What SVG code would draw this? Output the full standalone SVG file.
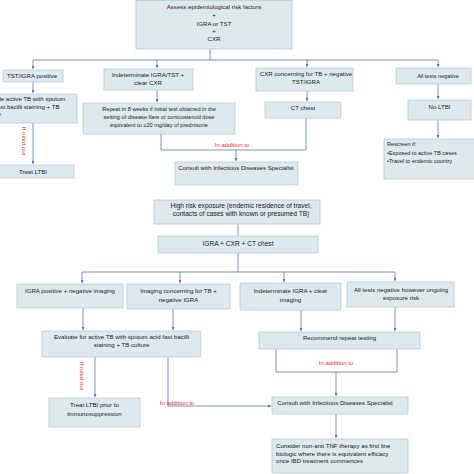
<svg xmlns="http://www.w3.org/2000/svg" width="474" height="474" viewBox="0 0 474 474">
<style>
.b{fill:#dde9ee;stroke:#b6cad4;stroke-width:0.8}
.t{font-family:"Liberation Sans",Arial,sans-serif;font-size:6.1px;fill:#1a1a1a;text-anchor:middle}
.l{text-anchor:start}
.s{font-size:5.6px}
.xs{font-size:5.5px}
.g{font-size:6.6px}
.r{font-family:"Liberation Sans",Arial,sans-serif;font-size:6px;fill:#e2302b;text-anchor:middle}
.c{fill:none;stroke:#5a76a4;stroke-width:0.8}
.a{marker-end:url(#ah)}
</style>
<defs>
<marker id="ah" viewBox="0 0 6 6" refX="6" refY="3" markerWidth="3" markerHeight="3" markerUnits="userSpaceOnUse" orient="auto">
<path d="M0,0 L6,3 L0,6 z" fill="#5a76a4"/>
</marker>
</defs>
<rect width="474" height="474" fill="#ffffff"/>
<g id="connectors">
<path class="c" d="M210,49 V60 M33,60 H438"/>
<path class="c a" d="M33,60 V69"/>
<path class="c a" d="M157,60 V68"/>
<path class="c a" d="M307,60 V67"/>
<path class="c a" d="M438,60 V67"/>
<path class="c a" d="M33,82 V93"/>
<path class="c a" d="M157,90 V102"/>
<path class="c a" d="M307,91 V101"/>
<path class="c a" d="M438,84 V99"/>
<path class="c a" d="M438,120 V138"/>
<path class="c a" d="M33,123 V164"/>
<path class="c" d="M161,134 V150 H306 V118"/>
<path class="c a" d="M236,150 V161"/>
<path class="c" d="M238,224 V236 M238,253 V272 M82,272 H395"/>
<path class="c a" d="M82,272 V283"/>
<path class="c a" d="M180,272 V283"/>
<path class="c a" d="M284,272 V282"/>
<path class="c a" d="M395,272 V281"/>
<path class="c a" d="M83,308 V330"/>
<path class="c a" d="M173,309 V330"/>
<path class="c a" d="M95,357 V397"/>
<path class="c a" d="M168,357 V406 H271"/>
<path class="c a" d="M301,310 V331"/>
<path class="c a" d="M395,307 V331"/>
<path class="c" d="M276,349 V372 H397 V349"/>
<path class="c a" d="M336,372 V396"/>
<path class="c a" d="M336,414 V438"/>
<text class="r" transform="translate(22.3,141) rotate(90)">If ruled out</text>
<text class="r" x="232" y="146.5">In addition to</text>
<text class="r" transform="translate(80.3,376) rotate(90)">If ruled out</text>
<text class="r l" x="177" y="404.5">In addition to</text>
<text class="r" x="336" y="365">In addition to</text>
</g>
<g id="n1"><rect class="b" x="136" y="0.5" width="156" height="48.5"/>
<text class="t" x="214" y="9">Assess epidemiological risk factors</text>
<text class="t" x="214" y="17">+</text>
<text class="t" x="214" y="26">IGRA or TST</text>
<text class="t" x="214" y="33">+</text>
<text class="t" x="214" y="41">CXR</text></g>
<g id="n2"><rect class="b" x="3" y="70" width="60" height="12"/>
<text class="t" x="32" y="78">TST/IGRA positive</text></g>
<g id="n3"><rect class="b" x="104" y="69" width="89" height="21"/>
<text class="t" x="148" y="77">Indeterminate IGRA/TST +</text>
<text class="t" x="148" y="85">clear CXR</text></g>
<g id="n4"><rect class="b" x="256" y="68" width="97" height="23"/>
<text class="t" x="306" y="76">CXR concerning for TB + negative</text>
<text class="t" x="306" y="84">TST/IGRA</text></g>
<g id="n5"><rect class="b" x="396" y="68" width="75" height="16"/>
<text class="t xs" x="438" y="77.5">All tests negative</text></g>
<g id="n6"><rect class="b" x="-10" y="94" width="87" height="29"/>
<text class="t l" x="-17.5" y="101">Exclude active TB with sputum</text>
<text class="t l" x="-17.5" y="109">acid fast bacilli staining + TB</text>
<text class="t l" x="-17.5" y="116">culture</text></g>
<g id="n7"><rect class="b" x="83" y="103" width="152" height="31"/>
<text class="t s" x="159" y="111">Repeat in 8 weeks if initial test obtained in the</text>
<text class="t s" x="159" y="119">setting of disease flare or corticosteroid dose</text>
<text class="t s" x="159" y="127">equivalent to ≥20 mg/day of prednisone</text></g>
<g id="n8"><rect class="b" x="265" y="102" width="76" height="16"/>
<text class="t" x="303" y="110">CT chest</text></g>
<g id="n9"><rect class="b" x="408" y="100" width="63" height="20"/>
<text class="t" x="439.5" y="109">No LTBI</text></g>
<g id="n10"><rect class="b" x="384" y="139" width="92" height="40"/>
<text class="t l xs" x="387" y="146">Rescreen if:</text>
<text class="t l xs" x="387" y="154.5">•Exposed to active TB cases</text>
<text class="t l xs" x="387" y="163">•Travel to endemic country</text></g>
<g id="n11"><rect class="b" x="-2" y="165" width="76" height="13"/>
<text class="t" x="33" y="174">Treat LTBI</text></g>
<g id="n12"><rect class="b" x="175" y="162" width="123" height="23"/>
<text class="t" x="236" y="170">Consult with Infectious Diseases Specialist</text></g>
<g id="n13"><rect class="b" x="154" y="200" width="166" height="24"/>
<text class="t g" x="241" y="208">High risk exposure (endemic residence of travel,</text>
<text class="t g" x="241" y="216">contacts of cases with known or presumed TB)</text></g>
<g id="n14"><rect class="b" x="158" y="236" width="160" height="17"/>
<text class="t g" x="238" y="245.5">IGRA + CXR + CT chest</text></g>
<g id="n15"><rect class="b" x="17" y="284" width="106" height="24"/>
<text class="t" x="70" y="293">IGRA positive + negative imaging</text></g>
<g id="n16"><rect class="b" x="127" y="284" width="103" height="25"/>
<text class="t" x="178.5" y="293">Imaging concerning for TB +</text>
<text class="t" x="178.5" y="301.5">negative IGRA</text></g>
<g id="n17"><rect class="b" x="240" y="283" width="101" height="27"/>
<text class="t" x="290.5" y="293">Indeterminate IGRA + clear</text>
<text class="t" x="290.5" y="301.5">imaging</text></g>
<g id="n18"><rect class="b" x="347" y="282" width="107" height="25"/>
<text class="t" x="401" y="292">All tests negative however ongoing</text>
<text class="t" x="401" y="300">exposure risk</text></g>
<g id="n19"><rect class="b" x="42" y="331" width="159" height="26"/>
<text class="t" x="121.5" y="339">Evaluate for active TB with sputum acid fast bacilli</text>
<text class="t" x="121.5" y="347">staining + TB culture</text></g>
<g id="n20"><rect class="b" x="49" y="398" width="91" height="29"/>
<text class="t" x="94.5" y="407">Treat LTBI prior to</text>
<text class="t" x="94.5" y="416">immunosuppression</text></g>
<g id="n21"><rect class="b" x="259" y="332" width="161" height="17"/>
<text class="t" x="339.5" y="340">Recommend repeat testing</text></g>
<g id="n22"><rect class="b" x="272" y="397" width="136" height="17"/>
<text class="t" x="335" y="405">Consult with Infectious Diseases Specialist</text></g>
<g id="n23"><rect class="b" x="272" y="439" width="136" height="34"/>
<text class="t l" x="276" y="448">Consider non-anti TNF therapy as first line</text>
<text class="t l" x="276" y="455.5">biologic where there is equivalent efficacy</text>
<text class="t l" x="276" y="463">once IBD treatment commences</text></g>
</svg>
